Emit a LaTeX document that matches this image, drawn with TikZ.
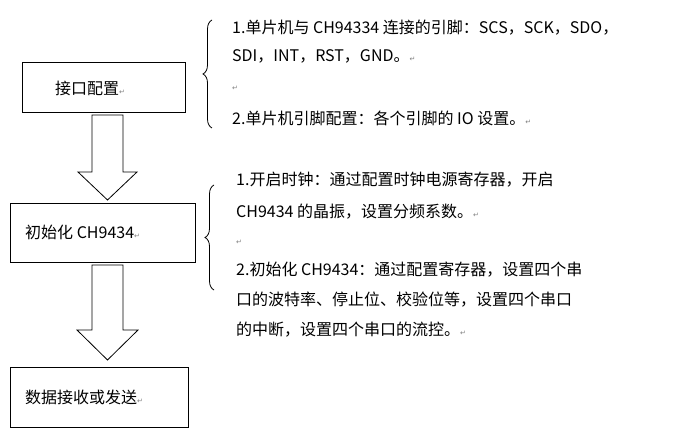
\documentclass[tikz,border=0pt]{standalone}
\usepackage{fontspec}
\setmainfont{Noto Sans CJK SC}
\newfontfamily\markfont{DejaVu Sans}
\usetikzlibrary{decorations.pathreplacing}
\newcommand{\pmark}{{\markfont\fontsize{7pt}{8pt}\selectfont\color{gray}↵}}
\tikzset{
  box/.style={draw,thick,minimum height=50pt,inner sep=0pt},
  txt/.style={anchor=west,inner sep=0pt,font=\fontsize{16pt}{18pt}\selectfont},
  brc/.style={decorate,decoration={brace,amplitude=9pt},line width=0.8pt},
  barrow/.style={draw,thick,fill=white}
}
\begin{document}
\begin{tikzpicture}[x=1pt,y=1pt]
\useasboundingbox (0,0) rectangle (684,435);
\fill[white] (0,0) rectangle (684,435);
% boxes
\node[box,minimum width=163pt,minimum height=50pt] (b1) at (103.5,348) {};
\node[txt] at (55,347) {接口配置\pmark};
\node[box,minimum width=185pt,minimum height=59pt] (b2) at (102.5,202.5) {};
\node[txt] at (25,203) {初始化 CH9434\pmark};
\node[box,minimum width=178pt,minimum height=60pt] (b3) at (99,38) {};
\node[txt] at (25,38) {数据接收或发送\pmark};
% block arrows
\draw[barrow] (92,320) -- (123,320) -- (123,263) -- (137,263) -- (107.5,235) -- (78,263) -- (92,263) -- cycle;
\draw[barrow] (92,170) -- (123,170) -- (123,105) -- (138,105) -- (107.5,75) -- (77,105) -- (92,105) -- cycle;
% braces
\coordinate (u1) at (212,307);
\coordinate (u2) at (212,415);
\draw[brc] (u1) -- (u2);
\coordinate (v1) at (214,145);
\coordinate (v2) at (214,250);
\draw[brc] (v1) -- (v2);
% texts group 1
\node[txt] (t1) at (232,407) {1.单片机与 CH94334 连接的引脚：SCS，SCK，SDO，};
\node[txt] (t2) at (232,379) {SDI，INT，RST，GND。\pmark};
\node[txt] (t3) at (232,347) {\pmark};
\node[txt] (t4) at (232,317) {2.单片机引脚配置：各个引脚的 IO 设置。\pmark};
% texts group 2
\node[txt] (s1) at (236,255) {1.开启时钟：通过配置时钟电源寄存器，开启};
\node[txt] (s2) at (236,223) {CH9434 的晶振，设置分频系数。\pmark};
\node[txt] (s3) at (236,193) {\pmark};
\node[txt] (s4) at (236,165) {2.初始化 CH9434：通过配置寄存器，设置四个串};
\node[txt] (s5) at (236,135) {口的波特率、停止位、校验位等，设置四个串口};
\node[txt] (s6) at (236,105) {的中断，设置四个串口的流控。\pmark};
\end{tikzpicture}
\end{document}
